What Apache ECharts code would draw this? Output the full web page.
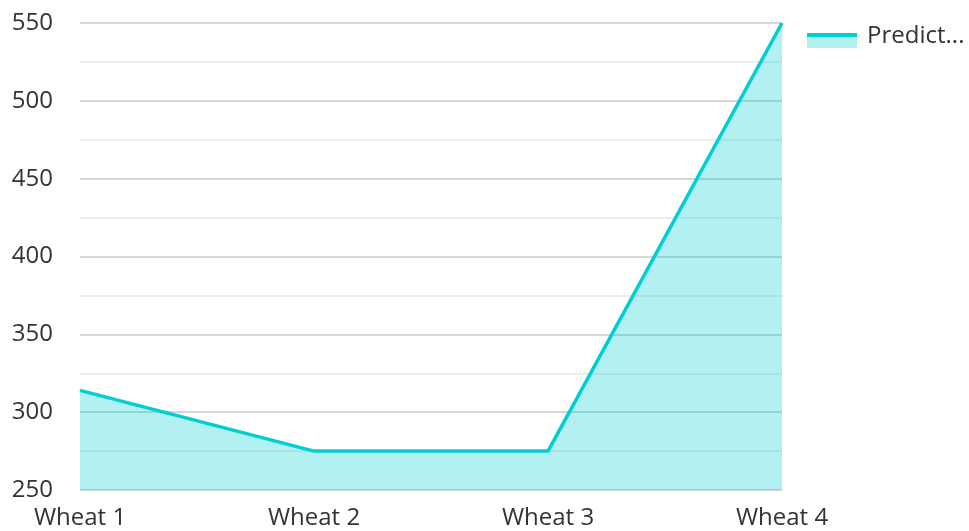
<!DOCTYPE html>
<html><head><meta charset="utf-8">
<script src="https://cdn.jsdelivr.net/npm/echarts@6/dist/echarts.min.js"></script>
<style>html,body{margin:0;padding:0;background:#fff}#c{width:969px;height:531px}</style>
</head><body><div id="c"></div>
<script>
const categories = ["Wheat 1", "Wheat 2", "Wheat 3", "Wheat 4"];
const seriesName = "Predicted Yield";
const values = [314, 275, 275, 550];
const yMin = 250, yMax = 550, yStep = 50;

const lineColor = '#00CED1';
const areaColor = '#b2efef';
const chart = echarts.init(document.getElementById('c'));
chart.setOption({
  animation: false,
  textStyle: { fontFamily: "Open Sans" },
  grid: { left: 80, right: 187, top: 23, bottom: 41, containLabel: false },
  legend: {
    left: 807, top: 19,
    icon: 'rect',
    itemWidth: 50, itemHeight: 15, itemGap: 10,
    itemStyle: { color: 'rgba(0,0,0,0)' },
    textStyle: { fontSize: 24, color: '#333', width: 106, overflow: 'truncate', fontFamily: "Open Sans" },
    data: [seriesName]
  },
  graphic: [{
    type: 'rect', left: 807, top: 33, silent: true, z: 100,
    shape: { width: 50, height: 15 },
    style: { fill: areaColor }
  }, {
    type: 'rect', left: 807, top: 33, silent: true, z: 101,
    shape: { width: 50, height: 4 },
    style: { fill: lineColor }
  }],
  xAxis: {
    type: 'category', data: categories, boundaryGap: false,
    axisLine: { show: false }, axisTick: { show: false },
    axisLabel: { fontSize: 24, color: '#333', margin: 16, fontFamily: "Open Sans" }
  },
  yAxis: {
    type: 'value', min: yMin, max: yMax, interval: yStep,
    axisLine: { show: false }, axisTick: { show: false },
    axisLabel: { fontSize: 24, color: '#333', margin: 27, fontFamily: "Open Sans" },
    splitLine: { lineStyle: { color: '#c8c8c8', width: 1.5 } },
    minorTick: { show: false, splitNumber: 2 },
    minorSplitLine: { show: true, lineStyle: { color: '#e8e8e8', width: 1.5 } }
  },
  series: [{
    name: seriesName, type: 'line', data: values,
    symbol: 'none', color: lineColor,
    lineStyle: { width: 3.5, color: lineColor },
    areaStyle: { color: lineColor, opacity: 0.3 }
  }]
});
</script></body></html>
